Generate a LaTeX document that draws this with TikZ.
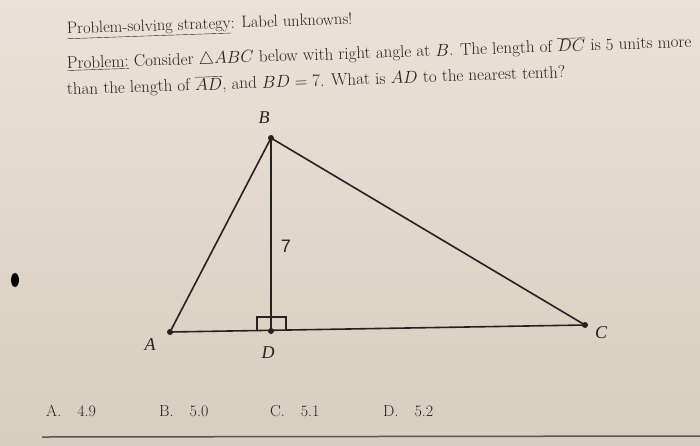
\documentclass[tikz,border=0pt]{standalone}
\usepackage{fontspec}
\newfontfamily\timesf{Liberation Serif}
\newfontfamily\arialf{Liberation Sans}
\definecolor{ink}{RGB}{38,34,34}
\definecolor{papertop}{RGB}{236,225,216}
\definecolor{paperbot}{RGB}{214,206,190}
\definecolor{rulec}{RGB}{90,86,82}
\begin{document}
\begin{tikzpicture}[x=1pt,y=-1pt,
  edge/.style={draw=ink,line width=1.6pt,line join=round},
  dot/.style={circle,fill=ink,inner sep=0pt,minimum size=6pt},
  lbl/.style={text=ink,font=\timesf\itshape\fontsize{18}{21}\selectfont,inner sep=0pt},
  para/.style={text=ink,anchor=base west,rotate=2.0,inner sep=0pt,font=\fontsize{17}{20}\selectfont},
  ans/.style={text=ink,anchor=base west,inner sep=0pt,font=\fontsize{16}{19}\selectfont}]
\shade[top color=papertop,bottom color=paperbot] (0,0) rectangle (700,445);
\useasboundingbox (0,0) rectangle (700,445);
% text
\node[para,font=\fontsize{16.4}{19}\selectfont] (t1) at (67,34) {\underline{Problem-solving strategy}: Label unknowns!};
\node[para] (t2) at (67,69) {\underline{Problem:} Consider $\triangle ABC$ below with right angle at $B$. The length of $\overline{DC}$ is 5 units more};
\node[para] (t3) at (67,95) {than the length of $\overline{AD}$, and $BD=7$. What is $AD$ to the nearest tenth?};
% triangle
\node[dot] (A) at (170,332) {};
\node[dot] (B) at (271,138) {};
\node[dot] (D) at (271,331) {};
\node[dot] (C) at (585,325) {};
\draw[edge] (A.center) -- (B.center) -- (C.center) -- cycle;
\draw[edge] (B.center) -- (D.center);
\draw[draw=ink,line width=1.2pt] (257,331) -- (257,317) -- (286,317) -- (286,331);
\node[lbl] (lB) at (264,118) {B};
\node[lbl] (lA) at (150,345) {A};
\node[lbl] (lD) at (268,353) {D};
\node[lbl] (lC) at (601,333) {C};
\node[text=ink,font=\arialf\fontsize{18}{21}\selectfont,inner sep=0pt] (l7) at (286,246) {7};
% answers
\node[ans] (a1) at (46,416) {A.\quad 4.9};
\node[ans] (a2) at (159,416) {B.\quad 5.0};
\node[ans] (a3) at (270,416) {C.\quad 5.1};
\node[ans] (a4) at (383,416) {D.\quad 5.2};
\draw[rulec,line width=1.5pt] (42,437) -- (700,436);
% punch hole
\fill[black] (15,280) ellipse [x radius=4pt,y radius=7pt];
\end{tikzpicture}
\end{document}
